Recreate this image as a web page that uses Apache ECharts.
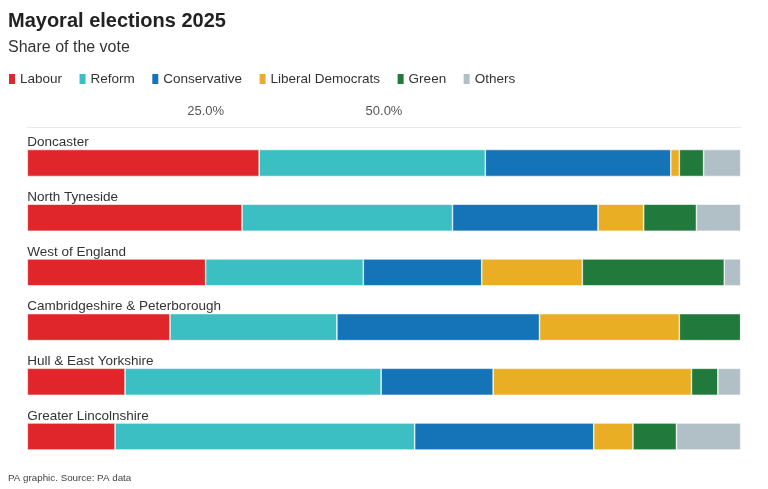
<!DOCTYPE html>
<html>
<head>
<meta charset="utf-8">
<script src="https://cdn.jsdelivr.net/npm/echarts@6/dist/echarts.min.js"></script>
<style>
html,body{margin:0;padding:0;background:#fff;}
#chart{width:768px;height:489px;}
</style>
</head>
<body>
<div id="chart"></div>
<script>
const categories = ['Doncaster', 'North Tyneside', 'West of England', 'Cambridgeshire & Peterborough', 'Hull & East Yorkshire', 'Greater Lincolnshire'];
const labour = [32.5, 30.1, 25.0, 20.0, 13.7, 12.3];
const reform = [31.7, 29.5, 22.1, 23.4, 35.9, 42.0];
const conservative = [26.0, 20.4, 16.6, 28.4, 15.7, 25.1];
const libdem = [1.2, 6.4, 14.1, 19.6, 27.8, 5.5];
const green = [3.4, 7.4, 19.9, 8.6, 3.7, 6.1];
const others = [5.2, 6.2, 2.3, 0, 3.2, 9.0];
const shownTicks = [25, 50];

const seriesDefs = [
  {name: 'Labour', data: labour, color: '#e0262b'},
  {name: 'Reform', data: reform, color: '#3bbfc2'},
  {name: 'Conservative', data: conservative, color: '#1573b8'},
  {name: 'Liberal Democrats', data: libdem, color: '#e9ae24'},
  {name: 'Green', data: green, color: '#217a3c'},
  {name: 'Others', data: others, color: '#b1bfc7'}
];

const FONT = '"Liberation Sans", Arial, sans-serif';
const chart = echarts.init(document.getElementById('chart'));
chart.setOption({
  animation: false,
  textStyle: {fontFamily: FONT},
  title: [
    {text: 'Mayoral elections 2025', left: 8, top: 11, padding: 0,
     textStyle: {fontFamily: FONT, fontSize: 20, fontWeight: 'bold', color: '#222'}},
    {text: 'Share of the vote', left: 8, top: 40, padding: 0,
     textStyle: {fontFamily: FONT, fontSize: 16, fontWeight: 'normal', color: '#333'}},
    {text: 'PA graphic. Source: PA data', left: 8, top: 473, padding: 0,
     textStyle: {fontFamily: FONT, fontSize: 9.8, fontWeight: 'normal', color: '#444'}}
  ],
  legend: {
    left: 9, top: 72, padding: 0, icon: 'rect', itemWidth: 6, itemHeight: 10, itemGap: 17.5,
    itemStyle: {borderWidth: 0},
    textStyle: {fontFamily: FONT, fontSize: 13.5, color: '#333'},
    data: seriesDefs.map(s => s.name)
  },
  grid: {left: 27.3, right: 27.3, top: 135.65, bottom: 25.15, containLabel: false, outerBoundsMode: 'none'},
  xAxis: {
    type: 'value', position: 'top', min: 0, max: 100, interval: 25, offset: 8.35,
    axisLine: {show: true, lineStyle: {color: '#ebebeb', width: 1}},
    axisTick: {show: false},
    splitLine: {show: false},
    axisLabel: {
      margin: 9, fontFamily: FONT, fontSize: 13, color: '#555',
      formatter: v => shownTicks.indexOf(v) >= 0 ? v.toFixed(1) + '%' : ''
    }
  },
  yAxis: {
    type: 'category', data: categories, inverse: true,
    axisLine: {show: false}, axisTick: {show: false}, splitLine: {show: false},
    axisLabel: {show: false}
  },
  series: seriesDefs.map((s, i) => ({
    name: s.name, type: 'bar', stack: 'total', data: s.data, barWidth: 27,
    itemStyle: {color: s.color, borderColor: '#ffffff', borderWidth: 0.6},
    label: i === 0 ? {
      show: true, position: [0, -14], formatter: '{b}', align: 'left', verticalAlign: 'top',
      fontFamily: FONT, fontSize: 13.5, color: '#333'
    } : {show: false},
    emphasis: {disabled: true}
  }))
});
</script>
</body>
</html>
